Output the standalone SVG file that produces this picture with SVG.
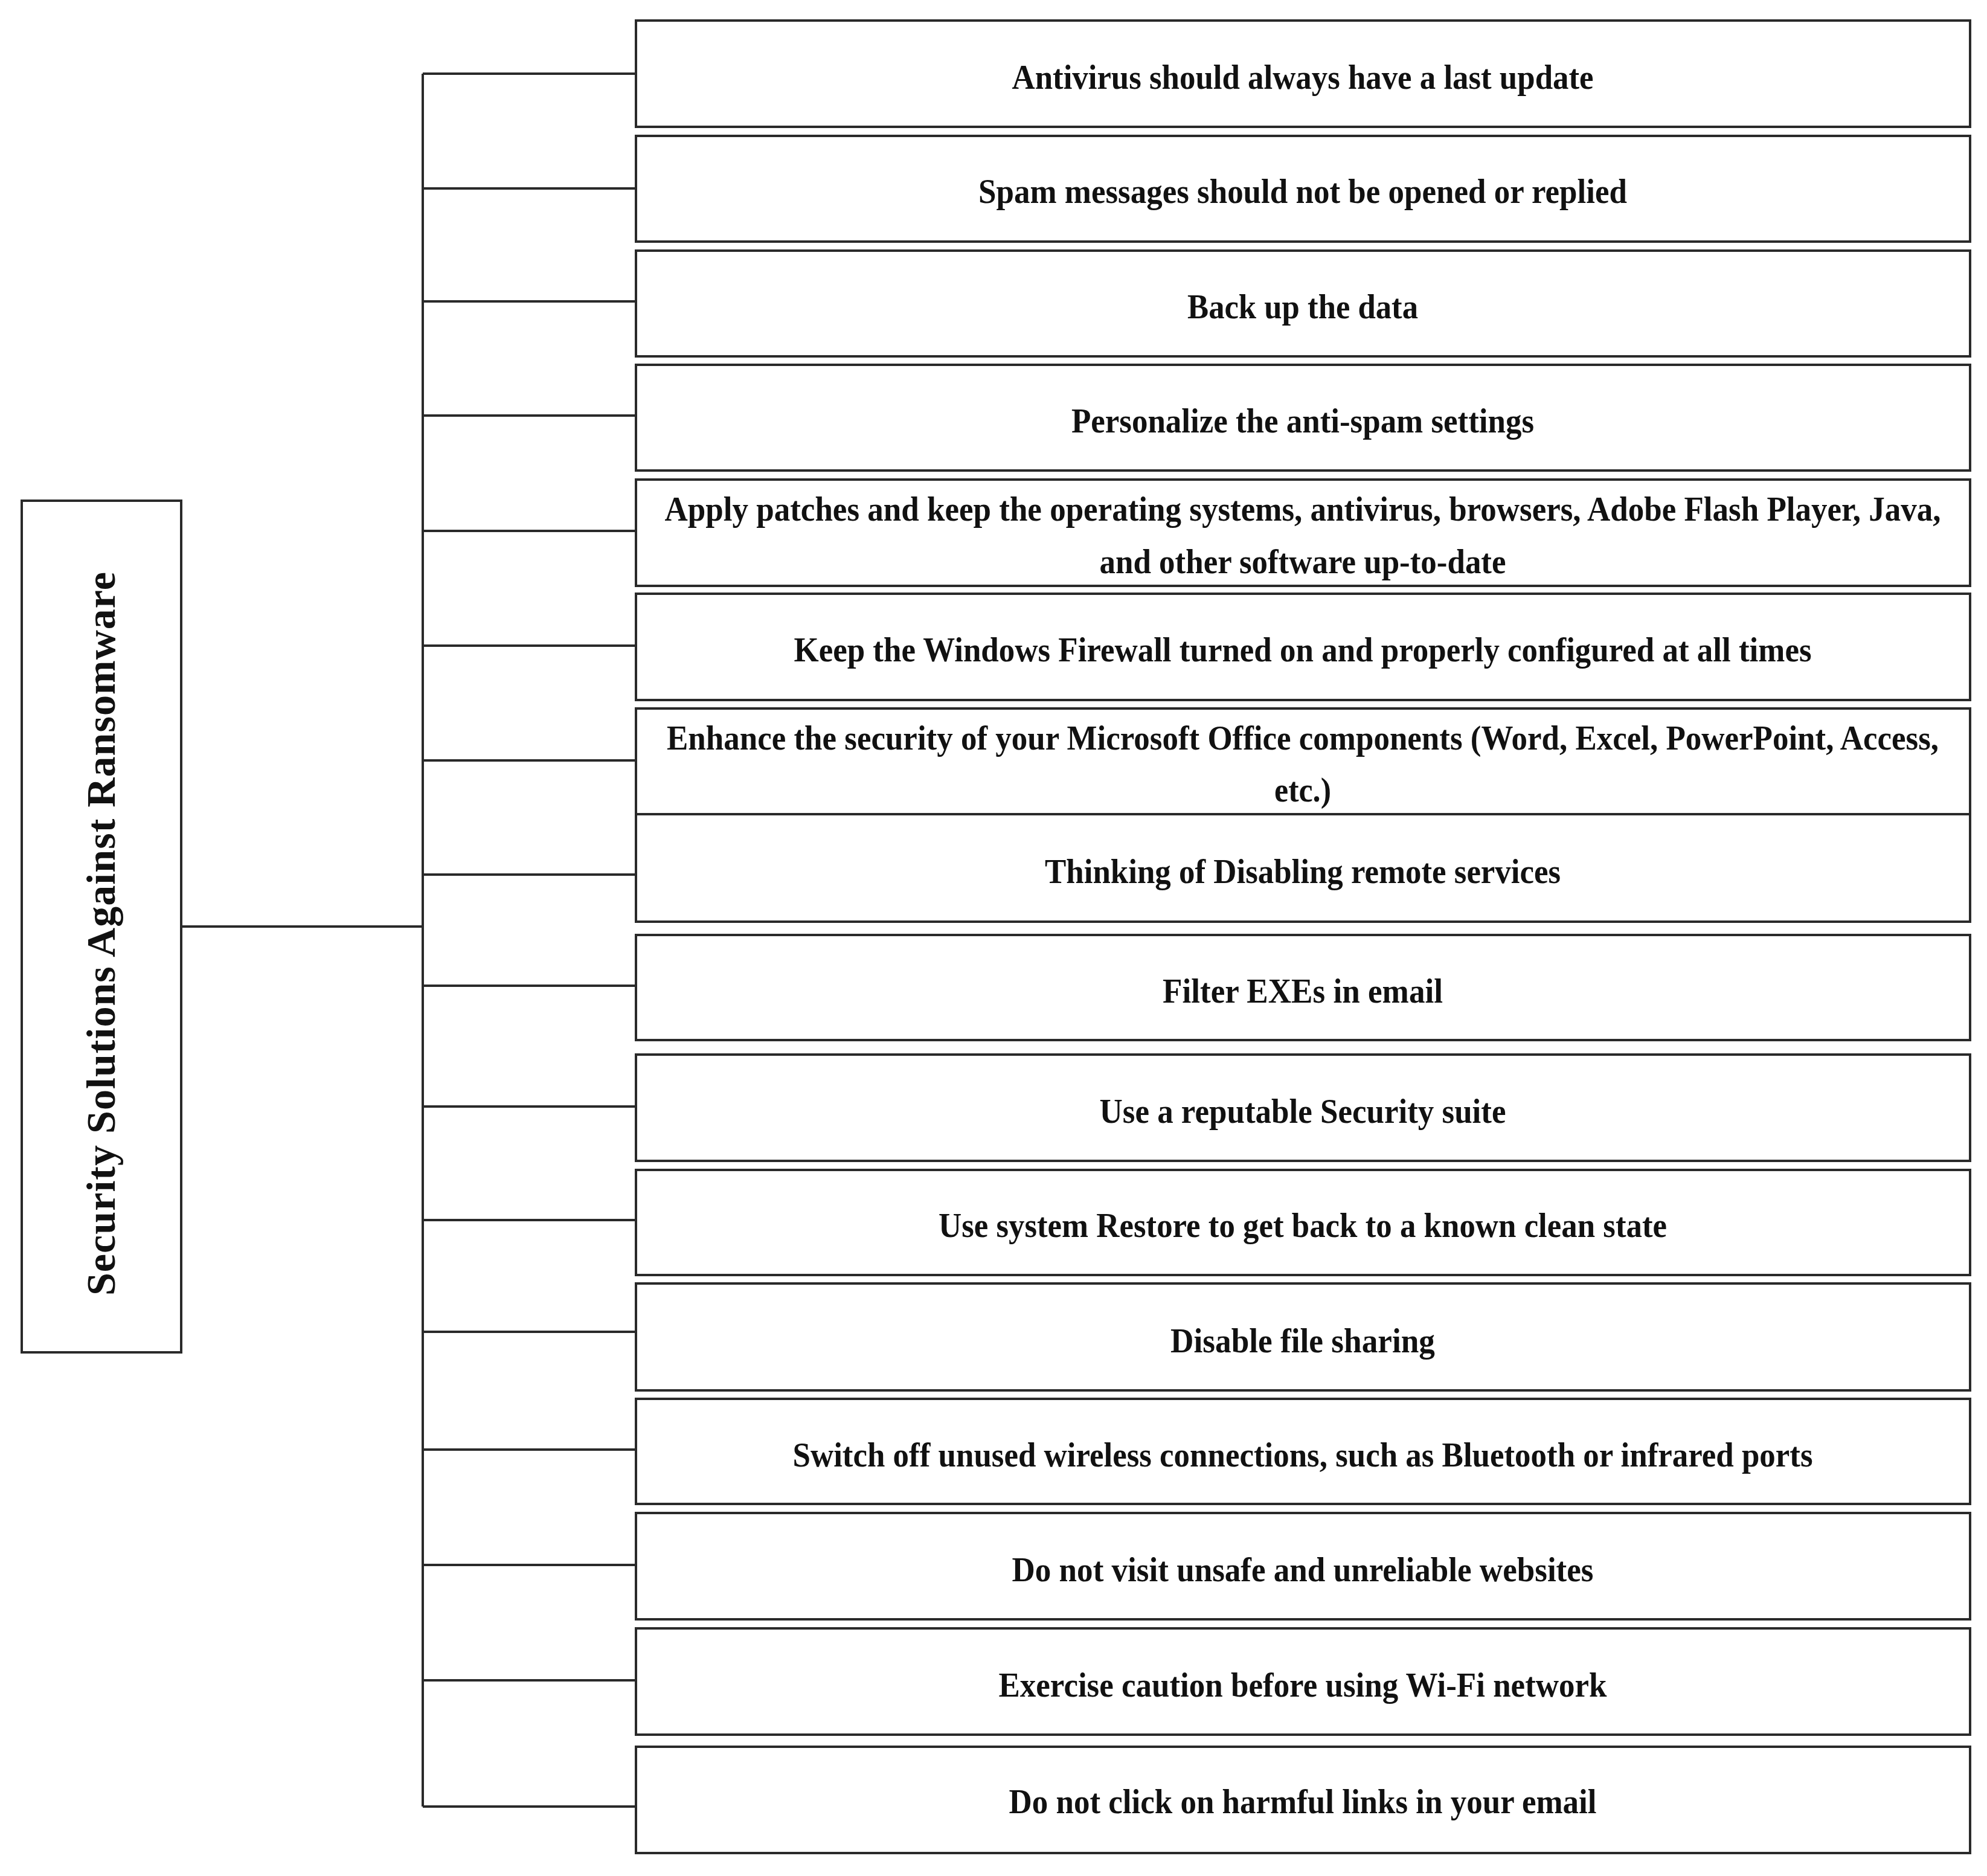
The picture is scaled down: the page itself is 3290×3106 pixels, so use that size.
<svg xmlns="http://www.w3.org/2000/svg" width="3290" height="3106" viewBox="0 0 3290 3106">
<style>
.box{fill:#fff;stroke:#2a2a2a;stroke-width:4}
.con{stroke:#2a2a2a;stroke-width:4;fill:none}
.t{font-family:"Liberation Serif","Times New Roman",serif;font-weight:bold;font-size:58px;fill:#111;text-anchor:middle}
.title{font-family:"Liberation Serif","Times New Roman",serif;font-weight:bold;font-size:68px;fill:#111;text-anchor:middle}
</style>
<rect width="3290" height="3106" fill="#fff"/>
<g id="connectors">
<line class="con" x1="300" y1="1534" x2="700" y2="1534"/>
<line class="con" x1="700" y1="122" x2="700" y2="2991"/>
<line class="con" x1="700" y1="122" x2="1053" y2="122"/>
<line class="con" x1="700" y1="312" x2="1053" y2="312"/>
<line class="con" x1="700" y1="499" x2="1053" y2="499"/>
<line class="con" x1="700" y1="688" x2="1053" y2="688"/>
<line class="con" x1="700" y1="879" x2="1053" y2="879"/>
<line class="con" x1="700" y1="1069" x2="1053" y2="1069"/>
<line class="con" x1="700" y1="1259" x2="1053" y2="1259"/>
<line class="con" x1="700" y1="1448" x2="1053" y2="1448"/>
<line class="con" x1="700" y1="1632" x2="1053" y2="1632"/>
<line class="con" x1="700" y1="1832" x2="1053" y2="1832"/>
<line class="con" x1="700" y1="2020" x2="1053" y2="2020"/>
<line class="con" x1="700" y1="2205" x2="1053" y2="2205"/>
<line class="con" x1="700" y1="2400" x2="1053" y2="2400"/>
<line class="con" x1="700" y1="2591" x2="1053" y2="2591"/>
<line class="con" x1="700" y1="2782" x2="1053" y2="2782"/>
<line class="con" x1="700" y1="2991" x2="1053" y2="2991"/>
</g>
<g id="root">
<rect class="box" x="36" y="829" width="264" height="1410"/>
<text class="title" transform="translate(190,1546) rotate(-90)" textLength="1198" lengthAdjust="spacing">Security Solutions Against Ransomware</text>
</g>
<g id="n1"><rect class="box" x="1053" y="34" width="2209" height="176"/><text class="t" x="2157" y="147" textLength="963" lengthAdjust="spacingAndGlyphs">Antivirus should always have a last update</text></g>
<g id="n2"><rect class="box" x="1053" y="225" width="2209" height="175"/><text class="t" x="2157" y="336" textLength="1074" lengthAdjust="spacingAndGlyphs">Spam messages should not be opened or replied</text></g>
<g id="n3"><rect class="box" x="1053" y="415" width="2209" height="175"/><text class="t" x="2157" y="527" textLength="382" lengthAdjust="spacingAndGlyphs">Back up the data</text></g>
<g id="n4"><rect class="box" x="1053" y="604" width="2209" height="175"/><text class="t" x="2157" y="716" textLength="766" lengthAdjust="spacingAndGlyphs">Personalize the anti-spam settings</text></g>
<g id="n5"><rect class="box" x="1053" y="794" width="2209" height="176"/><text class="t" x="2157" y="862" textLength="2113" lengthAdjust="spacingAndGlyphs">Apply patches and keep the operating systems, antivirus, browsers, Adobe Flash Player, Java,</text><text class="t" x="2157" y="949" textLength="673" lengthAdjust="spacingAndGlyphs">and other software up-to-date</text></g>
<g id="n6"><rect class="box" x="1053" y="983" width="2209" height="176"/><text class="t" x="2157" y="1095" textLength="1685" lengthAdjust="spacingAndGlyphs">Keep the Windows Firewall turned on and properly configured at all times</text></g>
<g id="n7"><rect class="box" x="1053" y="1173" width="2209" height="175"/><text class="t" x="2157" y="1241" textLength="2106" lengthAdjust="spacingAndGlyphs">Enhance the security of your Microsoft Office components (Word, Excel, PowerPoint, Access,</text><text class="t" x="2157" y="1327" textLength="94" lengthAdjust="spacingAndGlyphs">etc.)</text></g>
<g id="n8"><rect class="box" x="1053" y="1348" width="2209" height="178"/><text class="t" x="2157" y="1462" textLength="854" lengthAdjust="spacingAndGlyphs">Thinking of Disabling remote services</text></g>
<g id="n9"><rect class="box" x="1053" y="1548" width="2209" height="174"/><text class="t" x="2157" y="1660" textLength="464" lengthAdjust="spacingAndGlyphs">Filter EXEs in email</text></g>
<g id="n10"><rect class="box" x="1053" y="1746" width="2209" height="176"/><text class="t" x="2157" y="1859" textLength="673" lengthAdjust="spacingAndGlyphs">Use a reputable Security suite</text></g>
<g id="n11"><rect class="box" x="1053" y="1937" width="2209" height="174"/><text class="t" x="2157" y="2048" textLength="1206" lengthAdjust="spacingAndGlyphs">Use system Restore to get back to a known clean state</text></g>
<g id="n12"><rect class="box" x="1053" y="2125" width="2209" height="177"/><text class="t" x="2157" y="2239" textLength="438" lengthAdjust="spacingAndGlyphs">Disable file sharing</text></g>
<g id="n13"><rect class="box" x="1053" y="2316" width="2209" height="174"/><text class="t" x="2157" y="2428" textLength="1689" lengthAdjust="spacingAndGlyphs">Switch off unused wireless connections, such as Bluetooth or infrared ports</text></g>
<g id="n14"><rect class="box" x="1053" y="2505" width="2209" height="176"/><text class="t" x="2157" y="2618" textLength="963" lengthAdjust="spacingAndGlyphs">Do not visit unsafe and unreliable websites</text></g>
<g id="n15"><rect class="box" x="1053" y="2696" width="2209" height="176"/><text class="t" x="2157" y="2809" textLength="1007" lengthAdjust="spacingAndGlyphs">Exercise caution before using Wi-Fi network</text></g>
<g id="n16"><rect class="box" x="1053" y="2892" width="2209" height="176"/><text class="t" x="2157" y="3002" textLength="973" lengthAdjust="spacingAndGlyphs">Do not click on harmful links in your email</text></g>
</svg>
